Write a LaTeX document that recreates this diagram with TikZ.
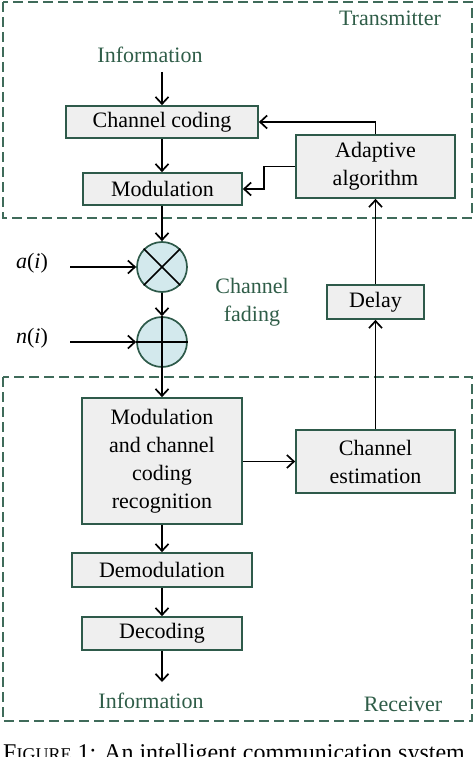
\documentclass[tikz,border=0pt]{standalone}
\usepackage{fontspec}
\setmainfont{Liberation Serif}
\usetikzlibrary{arrows.meta}
\definecolor{bordergreen}{HTML}{2E5A4A}
\definecolor{dashgreen}{HTML}{3F6B5A}
\definecolor{boxfill}{HTML}{EFEFEF}
\definecolor{circfill}{HTML}{D3E9ED}
\definecolor{textgreen}{HTML}{2F5D48}
\begin{document}
\begin{tikzpicture}[x=1pt,y=-1pt,
  every node/.style={font=\fontsize{22}{28}\selectfont},
  blk/.style={draw=bordergreen, line width=1.7pt, fill=boxfill, rectangle, inner sep=0pt, align=center},
  opcirc/.style={draw=bordergreen, line width=1.7pt, fill=circfill, circle, inner sep=0pt, minimum size=50pt},
  lbl/.style={inner sep=0pt, align=center},
  glbl/.style={inner sep=0pt, align=center, text=textgreen},
  arr/.style={line width=1.7pt, -{Straight Barb[length=7pt,width=13pt,line width=1.7pt]}},
  ln/.style={line width=1.7pt},
  region/.style={draw=dashgreen, line width=1.6pt, dash pattern=on 10pt off 5pt}
]
\useasboundingbox (0,0) rectangle (474,757);

% regions
\draw[region] (3,2) rectangle (472,218);
\draw[region] (3,377) rectangle (472,721);

% labels
\node[glbl] (tx) at (390,18) {Transmitter};
\node[glbl] (rx) at (403,704) {Receiver};
\node[glbl] (info1) at (150,55) {Information};
\node[glbl] (info2) at (151,701) {Information};
\node[glbl] (fading) at (252,302) {Channel\\fading};
\node[lbl] (ai) at (32,263) {\textit{a}(\textit{i})};
\node[lbl] (ni) at (32,338) {\textit{n}(\textit{i})};

% blocks
\node[blk, minimum width=192pt, minimum height=32pt] (cc) at (162,122) {Channel coding};
\node[blk, minimum width=159pt, minimum height=32pt] (mod) at (162.5,189) {Modulation};
\node[blk, minimum width=159pt, minimum height=63pt] (ada) at (375.5,166.5) {Adaptive\\algorithm};
\node[opcirc] (mult) at (162,267) {};
\node[opcirc] (plus) at (162,342) {};
\node[blk, minimum width=97pt, minimum height=34pt] (delay) at (375.5,302) {Delay};
\node[blk, minimum width=160pt, minimum height=126pt] (mccr) at (162,461) {Modulation\\and channel\\coding\\recognition};
\node[blk, minimum width=159pt, minimum height=63pt] (ce) at (375.5,461.5) {Channel\\estimation};
\node[blk, minimum width=180pt, minimum height=34pt] (demod) at (162,570) {Demodulation};
\node[blk, minimum width=160pt, minimum height=33pt] (dec) at (162,633.5) {Decoding};

% operator marks
\draw[ln] (mult.north west) -- (mult.south east);
\draw[ln] (mult.north east) -- (mult.south west);
\draw[ln] (plus.north) -- (plus.south);
\draw[ln] (plus.west) -- (plus.east);

% free ends
\coordinate (infoin) at (162,72);
\coordinate (infoout) at (162,682);
\coordinate (aistart) at (70,267);
\coordinate (nistart) at (70,342);

% connectors
\draw[arr] (infoin) -- (cc.north);
\draw[arr] (cc.south) -- (cc.south |- mod.north);
\draw[arr] (ada.north) |- (cc.east);
\draw[arr] (ada.west) -- ++(-31,0) |- (mod.east);
\draw[arr] (mod.south -| mult.north) -- (mult.north);
\draw[arr] (aistart) -- (mult.west);
\draw[arr] (mult.south) -- (plus.north);
\draw[arr] (nistart) -- (plus.west);
\draw[arr] (plus.south) -- (mccr.north);
\draw[arr] (mccr.east |- ce.west) -- (ce.west);
\draw[arr] (ce.north) -- (delay.south);
\draw[arr] (delay.north) -- (ada.south);
\draw[arr] (mccr.south) -- (demod.north);
\draw[arr] (demod.south) -- (dec.north);
\draw[arr] (dec.south) -- (infoout);

% caption (cut off by the page edge, as in the reference)
\node[inner sep=0pt, anchor=base west, font=\fontsize{24}{28}\selectfont] (cap) at (3,760)
  {F{\fontsize{18}{20}\selectfont IGURE} 1: An intelligent communication system};
\end{tikzpicture}
\end{document}
